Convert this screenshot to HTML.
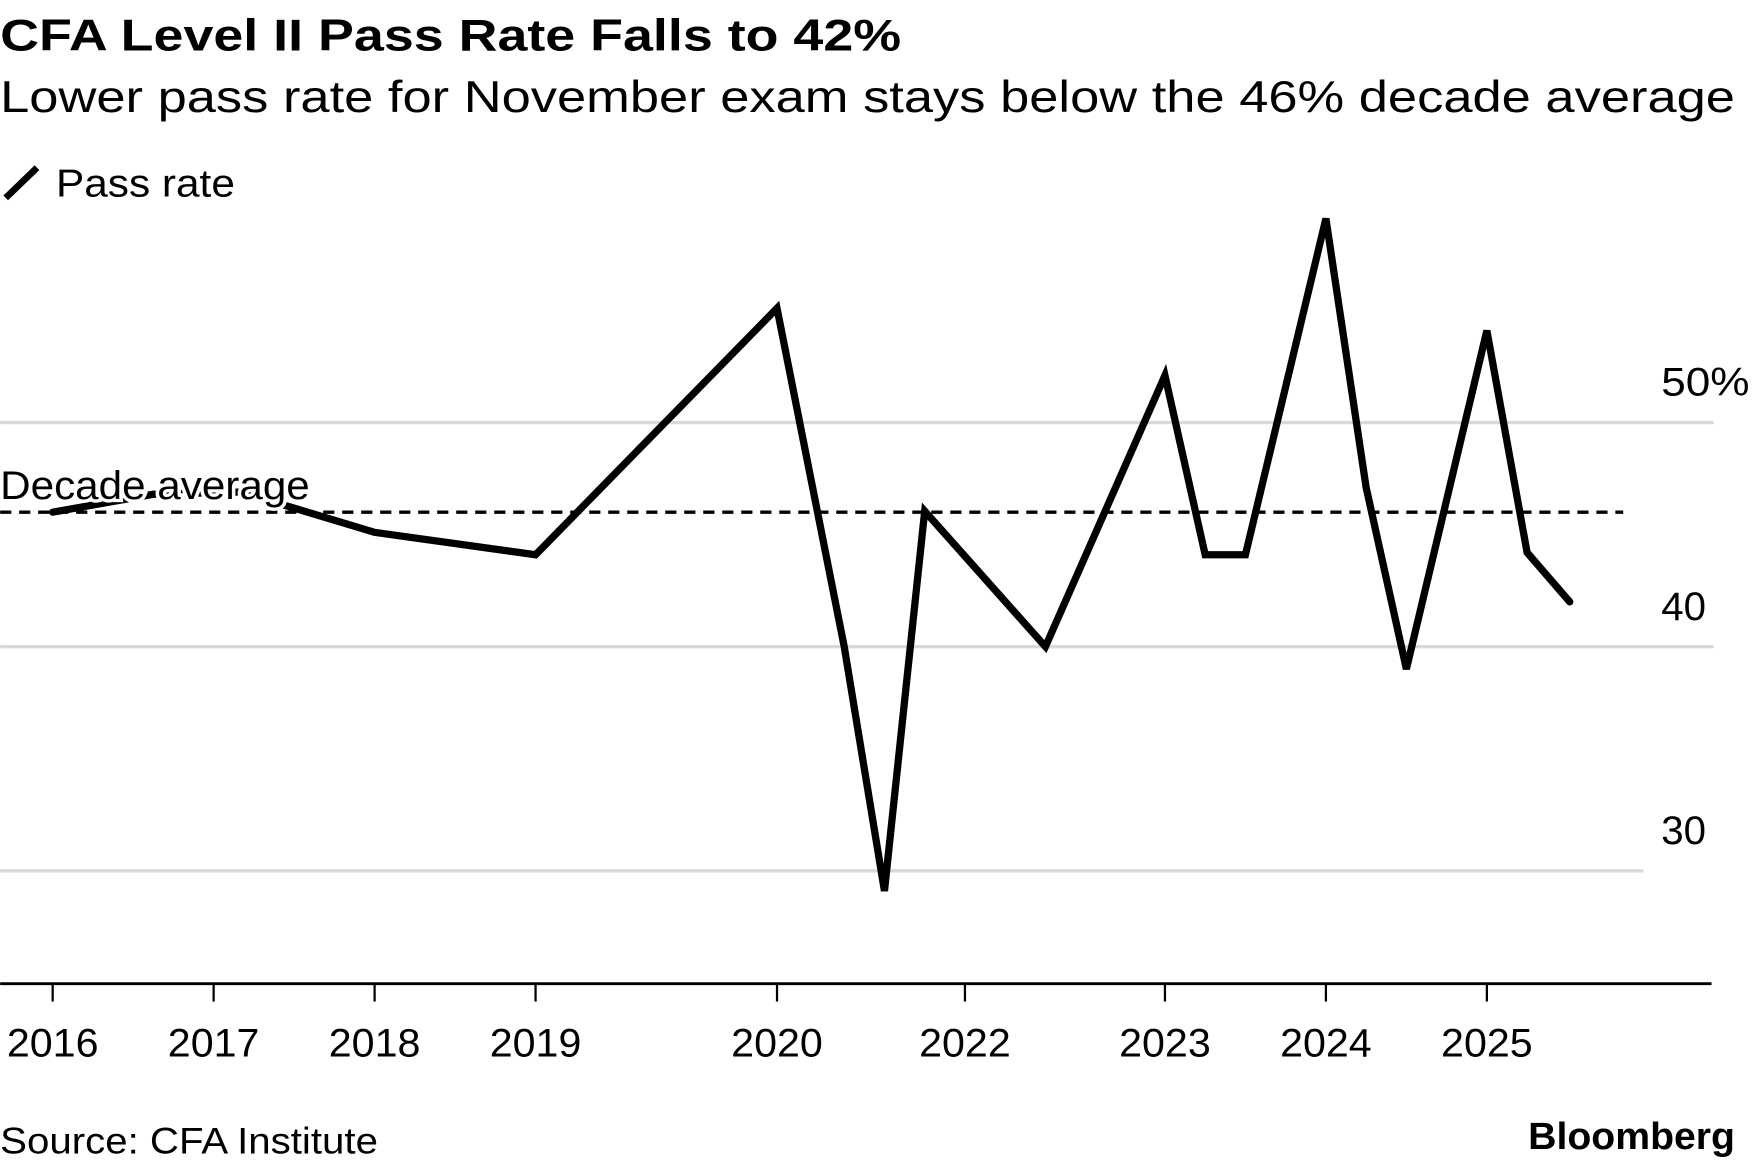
<!DOCTYPE html>
<html><head><meta charset="utf-8"><style>
html,body{margin:0;padding:0;background:#fff}
svg{display:block}
text{font-family:"Liberation Sans",Arial,sans-serif;fill:#000}
</style></head><body>
<svg id="chart" width="1753" height="1167" viewBox="0 0 1568 1044">
<text x="0" y="45" font-size="40" font-weight="bold" textLength="806" lengthAdjust="spacingAndGlyphs">CFA Level II Pass Rate Falls to 42%</text>
<text x="0" y="100" font-size="40" textLength="1552" lengthAdjust="spacingAndGlyphs">Lower pass rate for November exam stays below the 46% decade average</text>
<g>
<line x1="5" y1="177" x2="33" y2="150" stroke="#000" stroke-width="6"/>
<text x="50" y="176" font-size="35" textLength="160" lengthAdjust="spacingAndGlyphs">Pass rate</text>
</g>
<g id="grid"></g>
<g id="marks"></g>
<text x="0" y="1032" font-size="33" textLength="338" lengthAdjust="spacingAndGlyphs">Source: CFA Institute</text>
<text x="1367" y="1028" font-size="34" font-weight="bold" textLength="185" lengthAdjust="spacingAndGlyphs">Bloomberg</text>
</svg>
<script>
const times = [0, 2.5, 4.67, 8, 12, 18, 19.67, 20.67, 21.67, 24.67, 27.64, 28.64, 29.64, 31.64, 32.64, 33.64, 35.64, 36.64, 37.7];
const passRates = [46.0, 46.8, 46.9, 45.1, 44.1, 55.1, 40.0, 29.1, 46.05, 40.0, 52.1, 44.1, 44.1, 59.1, 47.1, 39.0, 54.1, 44.2, 42.0];
const tickTimes = [0, 4, 8, 12, 18, 22.67, 27.64, 31.64, 35.64];
const tickLabels = ["2016", "2017", "2018", "2019", "2020", "2022", "2023", "2024", "2025"];
const yTicks = [50, 40, 30];
const yTickLabels = ["50%", "40", "30"];
const decadeAverage = 46;

const NS = "http://www.w3.org/2000/svg";
const xs = t => 47 + t * 36;
const ys = v => 378 + (50 - v) * 20.05;
function mk(tag, attrs, parent) {
  const e = document.createElementNS(NS, tag);
  for (const k in attrs) e.setAttribute(k, attrs[k]);
  parent.appendChild(e);
  return e;
}
const grid = document.getElementById("grid");
const marks = document.getElementById("marks");

yTicks.forEach((v, i) => {
  const gl = mk("line", {x1: 0, x2: i === 2 ? 1470 : 1533, y1: ys(v), y2: ys(v), stroke: "#d9d9d9", "stroke-width": 3}, grid);
  
  
  const t = mk("text", {x: 1486, y: ys(v) - 24, "font-size": 36}, grid);
  if (i === 0) { t.setAttribute("textLength", 79); t.setAttribute("lengthAdjust", "spacingAndGlyphs"); }
  t.textContent = yTickLabels[i];
  
  
});

const ax = mk("line", {x1: 0, x2: 1531, y1: 880, y2: 880, stroke: "#000", "stroke-width": 2.5}, grid);


tickTimes.forEach((tt, i) => {
  const tk = mk("line", {x1: xs(tt), x2: xs(tt), y1: 880, y2: 896, stroke: "#000", "stroke-width": 2}, grid);
  
  
  const lb = mk("text", {x: xs(tt), y: 945, "font-size": 36, "text-anchor": "middle", "textLength": 82, "lengthAdjust": "spacingAndGlyphs"}, grid);
  lb.textContent = tickLabels[i];
  
  
});

const pts = times.map((t, i) => xs(t) + "," + ys(passRates[i])).join(" ");
const line = mk("polyline", {points: pts, fill: "none", stroke: "#000", "stroke-width": 6.5, "stroke-linejoin": "miter", "stroke-linecap": "round"}, marks);



const avg = mk("line", {x1: 0, x2: 1452, y1: ys(decadeAverage), y2: ys(decadeAverage), stroke: "#000", "stroke-width": 3, "stroke-dasharray": "10 7"}, marks);


const al = mk("text", {x: 0, y: ys(decadeAverage) - 12, "font-size": 36, textLength: 277, lengthAdjust: "spacingAndGlyphs", stroke: "#fff", "stroke-width": 6, "paint-order": "stroke"}, marks);
al.textContent = "Decade average";


</script>
</body></html>
